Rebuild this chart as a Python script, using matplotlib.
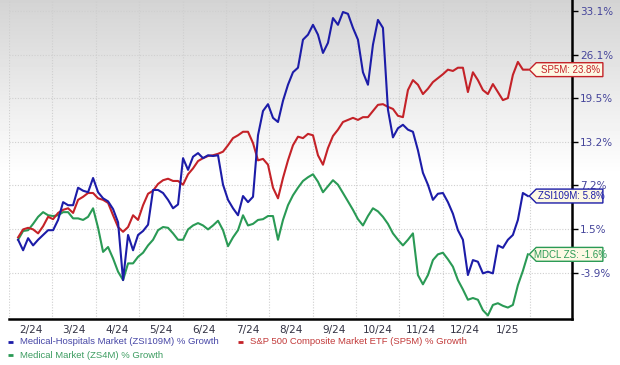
import numpy as np
import matplotlib
matplotlib.use('Agg')
import matplotlib.pyplot as plt
import matplotlib.transforms as mtransforms
from matplotlib.patches import Polygon
from matplotlib.lines import Line2D

# Подписи месяцев и отметки оси Y (%)
months = ['2/24', '3/24', '4/24', '5/24', '6/24', '7/24', '8/24', '9/24',
          '10/24', '11/24', '12/24', '1/25']
y_ticks = [-3.9, 1.5, 7.2, 13.2, 19.5, 26.1, 33.1]

# Рост, %
zsi109m = [0.2, -1.1, 0.4, -0.5, 0.2, 0.8, 1.4, 1.4, 2.7, 5.0,
           4.6, 4.6, 6.9, 6.5, 6.3, 8.2, 6.3, 5.5, 5.1, 4.1,
           2.4, -4.7, 0.8, -1.1, 0.8, 1.3, 2.1, 6.6, 6.6, 6.2,
           5.3, 4.2, 4.7, 10.9, 9.3, 11.1, 11.6, 10.9, 11.3, 11.2,
           11.3, 7.3, 5.3, 4.2, 3.3, 5.8, 5.0, 5.7, 14.1, 17.6,
           18.6, 16.6, 16.0, 19.1, 21.5, 23.4, 24.1, 28.5, 29.3, 30.9,
           29.3, 26.4, 28.0, 32.0, 30.9, 33.0, 32.7, 30.4, 28.5, 23.4,
           21.5, 27.7, 31.7, 30.4, 17.8, 13.8, 15.1, 15.6, 14.9, 14.6,
           12.0, 8.9, 7.3, 5.3, 6.1, 6.2, 5.0, 3.5, 1.4, 0.2,
           -4.1, -2.3, -2.5, -3.9, -3.7, -3.9, -0.5, -0.8, 0.2, 0.8,
           2.7, 6.2, 5.8]
sp5m = [0.5, 1.5, 1.7, 1.5, 1.0, 1.9, 3.1, 2.8, 3.6, 4.0,
        4.2, 3.6, 5.3, 5.7, 6.2, 6.2, 5.5, 5.3, 4.9, 3.3,
        1.8, 1.2, 1.8, 3.3, 2.7, 4.6, 6.1, 6.5, 7.4, 7.9,
        8.1, 7.8, 7.8, 7.3, 8.7, 9.5, 10.5, 10.9, 11.2, 11.3,
        11.5, 11.8, 12.7, 13.7, 14.1, 14.6, 14.6, 13.0, 10.6, 10.8,
        10.0, 6.9, 5.5, 8.2, 10.6, 12.7, 13.9, 13.7, 14.3, 14.1,
        11.3, 10.0, 12.3, 14.0, 14.9, 16.0, 16.3, 16.6, 16.3, 16.7,
        16.7, 17.6, 18.5, 18.6, 18.2, 17.9, 16.9, 16.7, 20.7, 22.2,
        21.5, 20.1, 20.9, 21.9, 22.5, 23.1, 23.8, 23.6, 24.1, 24.1,
        20.4, 23.4, 22.2, 20.7, 20.1, 21.6, 20.4, 19.2, 19.5, 23.0,
        25.0, 23.8, 23.8]
zs4m = [0.2, 1.3, 1.4, 2.2, 3.1, 3.7, 3.3, 3.2, 3.3, 3.7,
        3.7, 2.9, 2.9, 2.7, 3.1, 4.2, 1.7, -1.3, -0.7, -2.1,
        -3.7, -4.7, -2.7, -2.7, -1.9, -1.4, -0.5, 0.2, 1.4, 1.8,
        1.7, 1.0, 0.2, 0.2, 1.5, 2.0, 2.3, 2.0, 1.5, 2.0,
        2.6, 1.4, -0.6, 0.5, 1.4, 3.3, 2.0, 2.2, 2.7, 2.8,
        3.2, 3.2, 0.2, 2.7, 4.6, 5.9, 6.9, 7.8, 8.3, 8.7,
        7.7, 6.3, 7.1, 7.9, 7.3, 6.2, 5.1, 4.0, 2.8, 2.0,
        3.2, 4.2, 3.8, 3.1, 2.2, 1.0, 0.2, -0.5, 0.2, 1.0,
        -4.1, -5.2, -4.1, -2.3, -1.6, -1.4, -2.2, -3.1, -4.7, -5.8,
        -7.0, -6.8, -7.0, -8.2, -8.8, -7.6, -7.4, -7.7, -7.9, -7.6,
        -5.3, -3.6, -1.6]

series = {
    'zs4m': ('Medical Market (ZS4M) % Growth', 'MDCL ZS', zs4m, '#2a9a55', '#3c9c60'),
    'sp5m': ('S&P 500 Composite Market ETF (SP5M) % Growth', 'SP5M', sp5m, '#c42228', '#c23a3a'),
    'zsi109m': ('Medical-Hospitals Market (ZSI109M) % Growth', 'ZSI109M', zsi109m, '#1c1ca8', '#4646a6'),
}
draw_order = ['zs4m', 'sp5m', 'zsi109m']

W, H = 620, 365
fig = plt.figure(figsize=(W / 100, H / 100), dpi=100)

# Фон с градиентом (серый сверху -> белый)
bg = fig.add_axes([0, 0, 1, 1], zorder=-10)
rows = np.arange(H)
shade = 0.83 + 0.17 * np.clip(rows / 175.0, 0, 1)
bg.imshow(shade[:, None], cmap='gray', vmin=0, vmax=1, aspect='auto',
          extent=[0, 1, 0, 1])
bg.axis('off')

ax = fig.add_axes([9 / W, 46 / H, (571.7 - 9) / W, 319 / H])
ax.patch.set_alpha(0)

# Ось X в "слотах" месяцев, торговые дни равномерно
x = np.linspace(0.21, 11.96, len(zsi109m))

for key in draw_order:
    name, tag, vals, col, tcol = series[key]
    ax.plot(x, 100 + np.array(vals), color=col, lw=1.5, zorder=3,
            solid_joinstyle='round')

ax.set_yscale('log')
ax.set_xlim(0, 12.97)
ax.set_ylim(100 - 9.2, 135.0)
ax.yaxis.set_minor_locator(matplotlib.ticker.NullLocator())
ax.set_yticks([100 + t for t in y_ticks], [f'{t}%' for t in y_ticks])
ax.yaxis.tick_right()
ax.tick_params(axis='y', which='major', length=4, width=1, color='black',
               pad=2, labelsize=7.5, labelcolor='#44449a')

ax.set_xticks(np.arange(12) + 0.5, months)
ax.set_xticks(np.arange(13), minor=True)
ax.tick_params(axis='x', which='both', length=0, pad=4, labelsize=7.5,
               labelcolor='#333344')

ax.grid(True, axis='y', which='major', color='#cfcfcf', lw=0.8, ls=(0, (1, 1.5)))
ax.grid(True, axis='x', which='minor', color='#cfcfcf', lw=0.8, ls=(0, (1, 1.5)))

for side in ['left', 'top']:
    ax.spines[side].set_visible(False)
for side in ['right', 'bottom']:
    ax.spines[side].set_color('black')
    ax.spines[side].set_linewidth(1.8)

# Ярлыки с последними значениями
for key in draw_order:
    name, tag, vals, col, tcol = series[key]
    trans = (mtransforms.Affine2D().scale(fig.dpi / 72.0)
             + mtransforms.ScaledTranslation(x[-1], 100 + vals[-1], ax.transData))
    verts = [(1, 0), (6, 5), (54, 5), (54, -5), (6, -5)]
    poly = Polygon(verts, closed=True, transform=trans, facecolor='#fdf9e4',
                   edgecolor=col, lw=1.0, clip_on=False, zorder=6)
    ax.add_patch(poly)
    ax.text(31, -0.3, f'{tag}: {vals[-1]}%', transform=trans, ha='center',
            va='center', fontsize=7, color=col, family='Liberation Sans',
            zorder=7, clip_on=False)

# Легенда внизу
legend_pos = [('zsi109m', 8, 342), ('sp5m', 238, 342), ('zs4m', 8, 355)]
for key, px, py in legend_pos:
    name, tag, vals, col, tcol = series[key]
    fig.add_artist(Line2D([px / W, (px + 5) / W], [1 - py / H, 1 - py / H],
                          color=col, lw=2, solid_capstyle='butt'))
    fig.text((px + 12) / W, 1 - py / H, name, fontsize=6.8, color=tcol,
             family='Liberation Sans', va='center', ha='left')

fig.savefig('out.png', dpi=100)
